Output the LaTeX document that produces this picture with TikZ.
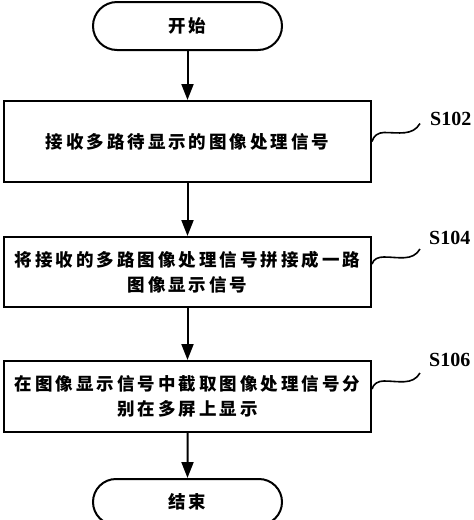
\documentclass[tikz,border=0pt]{standalone}
\usepackage{fontspec}
\setmainfont{Liberation Serif}
\newfontfamily\cjk{Noto Sans CJK SC}[LetterSpace=17]
\usepackage{tikz}
\usetikzlibrary{shapes.misc, arrows.meta, positioning, calc}

\begin{document}
\begin{tikzpicture}[
    x=1pt, y=1pt,
    terminal/.style={rounded rectangle, draw, line width=2pt, minimum width=189pt, minimum height=48pt, inner sep=0pt, font=\cjk\bfseries\fontsize{17.5}{25}\selectfont},
    stepbox/.style={rectangle, draw, line width=2pt, minimum width=367pt, inner sep=0pt, align=center, font=\cjk\bfseries\fontsize{17.5}{25}\selectfont},
    steplabel/.style={inner sep=0pt, anchor=west, font=\bfseries\fontsize{20}{24}\selectfont},
    arrow/.style={-{Triangle[length=16pt, width=12pt]}, line width=2pt},
    lead/.style={line width=1.6pt}
]
    \useasboundingbox (0,0) rectangle (474,-520);

    \node[terminal] (start) at (187.5,-26) {开始};
    \node[stepbox, minimum height=81pt, below=49pt of start] (b1) {接收多路待显示的图像处理信号};
    \node[stepbox, minimum height=70pt, below=53pt of b1] (b2) {将接收的多路图像处理信号拼接成一路\\图像显示信号};
    \node[stepbox, minimum height=71pt, below=52pt of b2] (b3) {在图像显示信号中截取图像处理信号分\\别在多屏上显示};
    \node[terminal, minimum height=46pt, below=45pt of b3] (end) {结束};

    % step numbers
    \node[steplabel, right=58pt of b1.north east, yshift=-19pt] (s1) {S102};
    \node[steplabel, right=57pt of b2.north east, yshift=-2pt] (s2) {S104};
    \node[steplabel, right=57pt of b3.north east] (s3) {S106};

    \draw[arrow] (start) -- (b1);
    \draw[arrow] (b1) -- (b2);
    \draw[arrow] (b2) -- (b3);
    \draw[arrow] (b3) -- (end);

    \draw[lead] (b1.east) to[out=75, in=180] ++(12,9) to[out=0, in=240] ++(36,9);
    \draw[lead] ($(b2.east)+(0,8)$) to[out=75, in=180] ++(12,7) to[out=0, in=240] ++(36,8);
    \draw[lead] ($(b3.east)+(0,7.5)$) to[out=75, in=180] ++(12,8) to[out=0, in=240] ++(36,8);
\end{tikzpicture}
\end{document}
